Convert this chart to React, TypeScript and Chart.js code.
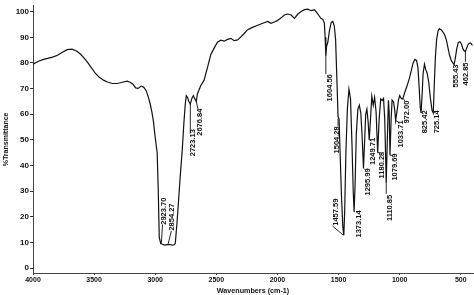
import React, { useEffect, useRef } from "react";
import { Chart, registerables } from "chart.js";

Chart.register(...registerables);

// ---- data ----
const wavenumbers = [
  4000, 3960, 3920, 3880, 3840, 3800, 3760, 3720, 3680, 3640, 3610, 3580, 3550, 3520, 3490, 3460,
  3420, 3390, 3350, 3310, 3270, 3230, 3205, 3180, 3160, 3140, 3115, 3095, 3074, 3055, 3041, 3028,
  3016, 3005, 2995, 2984, 2975, 2967, 2955, 2940, 2923, 2900, 2880, 2860, 2845, 2836, 2823, 2811,
  2795, 2779, 2765, 2754, 2746, 2736, 2725, 2713, 2700, 2688, 2676, 2664, 2655, 2628, 2601, 2573,
  2546, 2518, 2491, 2463, 2436, 2408, 2381, 2354, 2326, 2299, 2272, 2244, 2217, 2162, 2108, 2080,
  2053, 2025, 1998, 1970, 1943, 1916, 1888, 1861, 1833, 1800, 1779, 1751, 1724, 1697, 1669, 1645,
  1628, 1616, 1610, 1604, 1598, 1588, 1575, 1560, 1547, 1535, 1524, 1514, 1504, 1496, 1488, 1476,
  1465, 1457, 1450, 1440, 1428, 1415, 1402, 1390, 1380, 1373, 1365, 1355, 1342, 1330, 1318, 1308,
  1296, 1288, 1278, 1268, 1258, 1249, 1240, 1228, 1216, 1205, 1193, 1180, 1168, 1155, 1143, 1132,
  1122, 1110, 1100, 1092, 1086, 1079, 1070, 1062, 1050, 1040, 1033, 1022, 1010, 1000, 988, 980,
  972, 958, 940, 922, 905, 890, 876, 862, 850, 840, 832, 825, 817, 808, 797, 787,
  775, 762, 748, 735, 725, 718, 708, 698, 686, 675, 662, 648, 632, 618, 605, 592,
  578, 565, 555, 546, 533, 520, 507, 495, 482, 470, 462, 452, 440, 425, 415, 405,
];
const transmittance = [
  79.5, 80.6, 81.3, 81.8, 82.3, 83, 84.2, 85.2, 85.4, 84.6, 83.4, 81.8, 80, 78, 76, 74.5,
  73.2, 72.6, 72, 72, 72.5, 72.9, 72.5, 71.6, 70.3, 70.1, 71, 70.6, 69.2, 66.5, 64, 61,
  57.7, 53, 49, 45, 30, 12, 9.6, 9.3, 9.0, 9.2, 9.2, 9.0, 9.1, 9.6, 17, 25,
  36, 46, 57, 64, 67.2, 66.6, 65, 64, 66.2, 67.3, 66, 65, 67.9, 71.1, 73.2, 78.1,
  83.2, 85.8, 88.1, 88.9, 88.5, 89.2, 89.6, 88.7, 89, 90.2, 91.5, 93, 93.6, 94.7, 95.7, 96.2,
  95.5, 96, 96.6, 97.6, 98.7, 99.1, 98.7, 97.4, 99.1, 100.3, 100.8, 101, 100.4, 100.8, 99.1, 97.4,
  97, 95.5, 90, 82.5, 86.5, 88, 92.5, 95.8, 96.2, 94.5, 89, 74, 59, 58.3, 46, 28,
  16, 12.8, 22, 45, 62, 69.8, 66, 48, 30, 22, 32, 52, 62, 63.5, 60.5, 52,
  39, 48, 60, 62, 57, 50, 57, 67, 63.5, 66.6, 61, 45, 58, 66, 65.4, 66.2,
  58, 33, 52, 65.5, 61, 44, 58, 65.5, 64.8, 61.5, 57.5, 61, 65.5, 67.3, 66.2, 66,
  66.4, 68.6, 71, 73.8, 77, 80, 81.4, 81, 78, 70, 63, 60.5, 67, 76, 79.5, 77.5,
  76, 72.5, 66, 61.5, 60.5, 70, 82, 89, 92.5, 93.4, 93, 92.2, 91, 89, 86, 83,
  81, 80, 79.4, 81.5, 85.5, 88, 88.3, 87.5, 85.5, 84.6, 84.5, 85.8, 87.3, 87.8, 87.6, 86.8,
];
const xTicks = [4000, 3500, 3000, 2500, 2000, 1500, 1000, 500];
const yTicks = [0, 10, 20, 30, 40, 50, 60, 70, 80, 90, 100];
const peakLabels = [
  "2923.70", "2854.27", "2723.13", "2676.84", "1604.56", "1504.28", "1457.59", "1373.14",
  "1295.99", "1249.71", "1180.28", "1110.85", "1079.69", "1033.71", "972.00", "825.42",
  "725.14", "555.43", "462.85",
];

// ---- layout of the peak annotations (text centre, text top, leader line) ----
const labelLayout = [
  { w: 2926, top: 27.5, lead: [[2940, 17], [2950, 9.6]] },
  { w: 2861, top: 25.2, lead: [[2868, 14.5], [2895, 9.3]] },
  { w: 2689, top: 54.2, lead: [[2713, 64], [2713, 52.5]] },
  { w: 2631, top: 62.2, lead: [[2664, 65], [2650, 62]] },
  { w: 1574, top: 75.6, lead: [[1604, 82.5], [1604, 75.6]] },
  { w: 1516, top: 55.3, lead: [[1504, 58.3], [1504, 55.5]] },
  { w: 1520, top: 27.1, lead: [[1549, 16.4], [1462, 12.9]] },
  { w: 1336, top: 22.5, lead: [[1373, 22], [1366, 22]] },
  { w: 1258, top: 38.9, lead: [[1296, 39], [1285, 38.5]] },
  { w: 1217, top: 50.8, lead: [[1249, 50], [1232, 50]] },
  { w: 1148, top: 45.4, lead: [[1180, 45], [1160, 45]] },
  { w: 1082, top: 28.6, lead: [[1110, 33], [1110, 29]] },
  { w: 1037, top: 44.7, lead: [[1079, 44], [1060, 44]] },
  { w: 992, top: 57.6, lead: [[1033, 57.5], [1010, 57]] },
  { w: 939, top: 65.3, lead: [[972, 66.2], [955, 65]] },
  { w: 795, top: 61.5, lead: [[825, 60.5], [812, 61]] },
  { w: 697, top: 61.5, lead: [[725, 60.5], [712, 61]] },
  { w: 541, top: 79.4, lead: [[555, 79.4], [548, 79]] },
  { w: 459, top: 80.2, lead: [[462, 84.5], [462, 80.5]] },
];

const FONT = '"Liberation Sans", Arial, sans-serif';

const peakLabelPlugin = {
  id: "peakLabels",
  afterDatasetsDraw(chart: any) {
    const { ctx } = chart;
    const xs = chart.scales.x;
    const ys = chart.scales.y;
    ctx.save();
    ctx.strokeStyle = "#111";
    ctx.fillStyle = "#111";
    ctx.lineWidth = 0.9;
    ctx.font = `bold 7.5px ${FONT}`;
    peakLabels.forEach((label, i) => {
      const L = labelLayout[i];
      ctx.beginPath();
      ctx.moveTo(xs.getPixelForValue(L.lead[0][0]), ys.getPixelForValue(L.lead[0][1]));
      ctx.lineTo(xs.getPixelForValue(L.lead[1][0]), ys.getPixelForValue(L.lead[1][1]));
      ctx.stroke();
      ctx.save();
      ctx.translate(xs.getPixelForValue(L.w), ys.getPixelForValue(L.top));
      ctx.rotate(-Math.PI / 2);
      ctx.textAlign = "right";
      ctx.textBaseline = "middle";
      ctx.fillText(label, 0, 0);
      ctx.restore();
    });
    ctx.restore();
  },
};

export default function App() {
  const canvasRef = useRef<HTMLCanvasElement | null>(null);

  useEffect(() => {
    document.body.style.margin = "0";
    const canvas = canvasRef.current;
    if (!canvas) return;
    const points = wavenumbers.map((w, i) => ({ x: w, y: transmittance[i] }));
    const chart = new Chart(canvas, {
      type: "line",
      data: {
        datasets: [
          {
            data: points,
            borderColor: "#111",
            borderWidth: 1.2,
            pointRadius: 0,
            tension: 0,
            fill: false,
          },
        ],
      },
      options: {
        animation: false,
        responsive: false,
        maintainAspectRatio: false,
        layout: { padding: { left: 0, right: 1, top: 0, bottom: 0 } },
        plugins: { legend: { display: false }, tooltip: { enabled: false } },
        scales: {
          x: {
            type: "linear",
            reverse: true,
            min: 400,
            max: 4000,
            afterBuildTicks: (s: any) => {
              s.ticks = xTicks.map((v) => ({ value: v }));
            },
            afterFit: (s: any) => {
              s.height = 22;
            },
            grid: { display: true, drawOnChartArea: false, tickLength: 2, color: "#333" },
            border: { display: true, color: "#444", width: 1, dash: [2, 1.5] },
            ticks: {
              color: "#111",
              padding: 1,
              maxRotation: 0,
              autoSkip: false,
              callback: (v: any) => String(v),
              font: { family: FONT, size: 7, weight: "bold" },
            },
            title: {
              display: true,
              text: "Wavenumbers (cm-1)",
              color: "#111",
              padding: { top: 0, bottom: 0 },
              font: { family: FONT, size: 7.2, weight: "bold" },
            },
          },
          y: {
            type: "linear",
            min: -1.9,
            max: 102.3,
            afterBuildTicks: (s: any) => {
              s.ticks = yTicks.map((v) => ({ value: v }));
            },
            afterFit: (s: any) => {
              s.width = 33;
            },
            grid: { display: true, drawOnChartArea: false, tickLength: 3, color: "#333" },
            border: { display: true, color: "#444", width: 1, dash: [2, 1.5] },
            ticks: {
              color: "#111",
              padding: 1,
              callback: (v: any) => String(v),
              font: { family: FONT, size: 8, weight: "bold" },
            },
            title: {
              display: true,
              text: "%Transmittance",
              color: "#111",
              padding: { top: 1.5, bottom: 0 },
              font: { family: FONT, size: 7, weight: "bold" },
            },
          },
        },
      },
      plugins: [peakLabelPlugin],
    } as any);
    return () => chart.destroy();
  }, []);

  return (
    <div style={{ position: "fixed", left: 0, top: 0, width: 474, height: 295, background: "#fff" }}>
      <canvas ref={canvasRef} width={474} height={295} style={{ display: "block" }} />
    </div>
  );
}
